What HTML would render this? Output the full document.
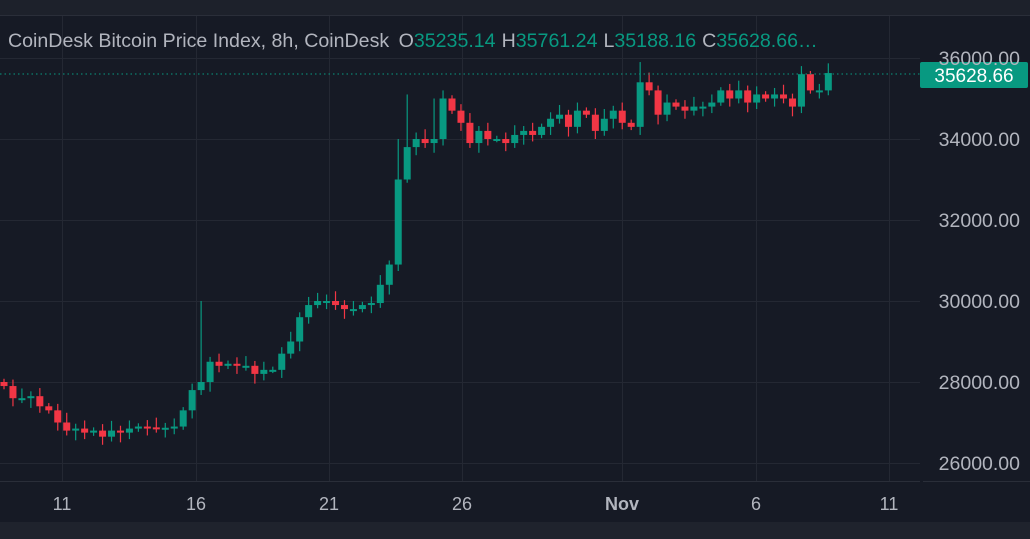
<!DOCTYPE html>
<html><head><meta charset="utf-8"><style>
html,body{margin:0;padding:0;background:#161a25;width:1030px;height:539px;overflow:hidden;font-family:"Liberation Sans",sans-serif}
</style></head><body>
<svg id="s" width="1030" height="539" xmlns="http://www.w3.org/2000/svg" style="display:block">
<rect width="1030" height="539" fill="#161a25"/>
<rect width="1030" height="15" fill="#1d212b"/>
<line x1="0" y1="15.5" x2="1030" y2="15.5" stroke="#2a2e39"/>
<rect y="522" width="1030" height="17" fill="#1f232d"/>
<line x1="0" y1="481.5" x2="920" y2="481.5" stroke="#2a2e39"/>
<line x1="923" y1="481.5" x2="1030" y2="481.5" stroke="#2a2e39"/>
<g id="grid" stroke="#242833" stroke-width="1"></g>
<g id="c"></g>
<line x1="0" y1="74" x2="920" y2="74" stroke="#089981" stroke-dasharray="1.5,3" stroke-width="1"/>
<rect x="920" y="62" width="108" height="26" rx="2" fill="#089981"/>
<text x="974" y="82" fill="#ffffff" font-size="19" text-anchor="middle">35628.66</text>
<g fill="#b2b5be" font-size="19.5" text-anchor="end">
<text x="1020" y="65">36000.00</text>
<text x="1020" y="146">34000.00</text>
<text x="1020" y="227">32000.00</text>
<text x="1020" y="389">28000.00</text>
<text x="1020" y="308">30000.00</text>
<text x="1020" y="470">26000.00</text>
</g>
<g fill="#b2b5be" font-size="18" text-anchor="middle">
<text x="62" y="510">11</text><text x="196" y="510">16</text><text x="329" y="510">21</text>
<text x="462" y="510">26</text><text x="622" y="510" font-weight="bold">Nov</text>
<text x="756" y="510">6</text><text x="889" y="510">11</text>
</g>
<text x="8" y="47" font-size="19.6" fill="#b2b5be">CoinDesk Bitcoin Price Index, 8h, CoinDesk <tspan dx="4">O</tspan><tspan fill="#089981">35235.14</tspan><tspan dx="6">H</tspan><tspan fill="#089981">35761.24</tspan><tspan dx="6">L</tspan><tspan fill="#089981">35188.16</tspan><tspan dx="6">C</tspan><tspan fill="#089981">35628.66…</tspan></text>
</svg>
<script>
var ns="http://www.w3.org/2000/svg";
function el(p,t,a){var e=document.createElementNS(ns,t);for(var k in a)e.setAttribute(k,a[k]);p.appendChild(e);return e;}
var g=document.getElementById("grid");
[58,139,220,301,382,463].forEach(function(y){el(g,"line",{x1:0,x2:920,y1:y+.5,y2:y+.5});});
[62,196,329,462,622,756,889].forEach(function(x){el(g,"line",{x1:x+.5,x2:x+.5,y1:16,y2:481});});
var cl=[27900,27600,27600,27650,27400,27300,27000,26800,26850,26750,26800,26650,26800,26750,26850,26900,26880,26870,26870,26900,27300,27800,28000,28500,28400,28450,28400,28400,28200,28300,28300,28700,29000,29600,29900,30000,30000,29900,29800,29800,29900,29950,30400,30900,33000,33800,34000,33900,34000,35000,34700,34400,33900,34200,34000,34000,33900,34100,34200,34100,34300,34500,34600,34300,34700,34600,34200,34500,34700,34400,34300,35400,35200,34600,34900,34800,34700,34800,34800,34900,35200,35000,35200,34900,35100,35000,35100,35000,34800,35600,35200,35200,35628];
var big={22:30000,44:34000,45:35100,48:35000,71:35900,89:35800,35:30200,43:31000};
var y=function(p){return 463-(p-26000)*0.0405;};
var c=document.getElementById("c");var o=28000;
for(var i=0;i<cl.length;i++){var x=4+i*8.96;var cc=cl[i];var up=cc>=o;var col=up?"#089981":"#f23645";
var h=Math.max(o,cc)+80+((i*37)%5)*40,l=Math.min(o,cc)-80-((i*53)%5)*40;if(big[i])h=big[i];
el(c,"line",{x1:x,x2:x,y1:y(h),y2:y(l),stroke:col,"stroke-width":1.2});
var t=y(Math.max(o,cc)),b=y(Math.min(o,cc));if(b-t<2){b=t+2;}
el(c,"rect",{x:x-3.5,y:t,width:7,height:b-t,fill:col});o=cc;}
</script>
</body></html>
